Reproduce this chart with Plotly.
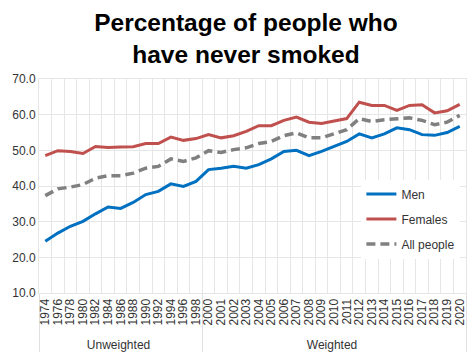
import plotly.graph_objects as go

years_unweighted = ["1974", "1976", "1978", "1980", "1982", "1984", "1986", "1988",
                    "1990", "1992", "1994", "1996", "1998"]
years_weighted = [str(y) for y in range(2000, 2021)]

groups = ["Unweighted"] * len(years_unweighted) + ["Weighted"] * len(years_weighted)
years = years_unweighted + years_weighted

men = [24.5, 26.8, 28.7, 30.1, 32.2, 34.1, 33.7, 35.4, 37.6, 38.5, 40.6, 39.9, 41.3,
       44.6, 45.0, 45.5, 45.0, 46.0, 47.6, 49.7, 50.0, 48.5, 49.7, 51.1, 52.5,
       54.6, 53.5, 54.6, 56.3, 55.8, 54.4, 54.2, 55.0, 56.7]
females = [48.5, 49.9, 49.7, 49.1, 51.1, 50.8, 50.9, 51.0, 51.9, 51.9, 53.7, 52.8, 53.3,
           54.4, 53.5, 54.1, 55.3, 56.9, 56.9, 58.4, 59.3, 57.9, 57.5, 58.3, 58.9,
           63.5, 62.6, 62.6, 61.2, 62.6, 62.8, 60.5, 61.1, 62.9]
all_people = [37.3, 39.2, 39.7, 40.4, 42.2, 42.9, 42.9, 43.6, 45.0, 45.5, 47.6, 46.9, 47.9,
              49.9, 49.4, 50.2, 50.7, 51.9, 52.5, 54.1, 54.9, 53.5, 53.5, 54.7, 55.8,
              58.9, 58.1, 58.6, 58.9, 59.1, 58.4, 57.2, 57.9, 59.8]

x = [groups, years]

fig = go.Figure()
fig.add_trace(go.Scatter(x=x, y=men, mode="lines", name="Men", legendgroup="a",
                         line=dict(color="#0070c0", width=3)))
fig.add_trace(go.Scatter(x=x, y=females, mode="lines", name="Females", legendgroup="b",
                         line=dict(color="#c0504d", width=3)))
fig.add_trace(go.Scatter(x=x, y=all_people, mode="lines", name="All people", legendgroup="c",
                         line=dict(color="#808080", width=3.5, dash="9px,5px")))

fig.update_layout(
    width=474, height=352,
    margin=dict(l=39, r=8, t=79, b=59, autoexpand=False),
    paper_bgcolor="white", plot_bgcolor="white",
    font=dict(family="Liberation Sans, Arial, sans-serif", size=12, color="#333333"),
    title=dict(text="<b>Percentage of people who<br>have never smoked</b>",
               font=dict(size=24.5, color="black"),
               x=0.519, xref="container", xanchor="center",
               y=0.912, yref="container", yanchor="top"),
    showlegend=True,
    legend=dict(x=0.755, y=0.53, xanchor="left", yanchor="top",
                bgcolor="white", font=dict(size=12, color="#333333"),
                traceorder="grouped", tracegroupgap=6, itemwidth=30),
)

fig.update_xaxes(type="multicategory", tickangle=-90, showgrid=True,
                 range=[-0.5, len(years) - 0.5],
                 tickmode="linear", tick0=0, dtick=1,
                 gridcolor="#e6e6e6", gridwidth=1, tickson="boundaries",
                 showline=True, linecolor="#e6e6e6", mirror=True,
                 ticks="", showdividers=True, dividercolor="#e0e0e0",
                 tickfont=dict(size=12, color="#333333"), automargin=False)
fig.update_yaxes(range=[10, 70], dtick=10, tickformat=".1f", showgrid=True,
                 gridcolor="#e6e6e6", gridwidth=1, zeroline=False,
                 showline=True, linecolor="#e6e6e6", mirror=True,
                 tickfont=dict(size=12, color="#333333"), automargin=False)

fig.write_html("out.html")
